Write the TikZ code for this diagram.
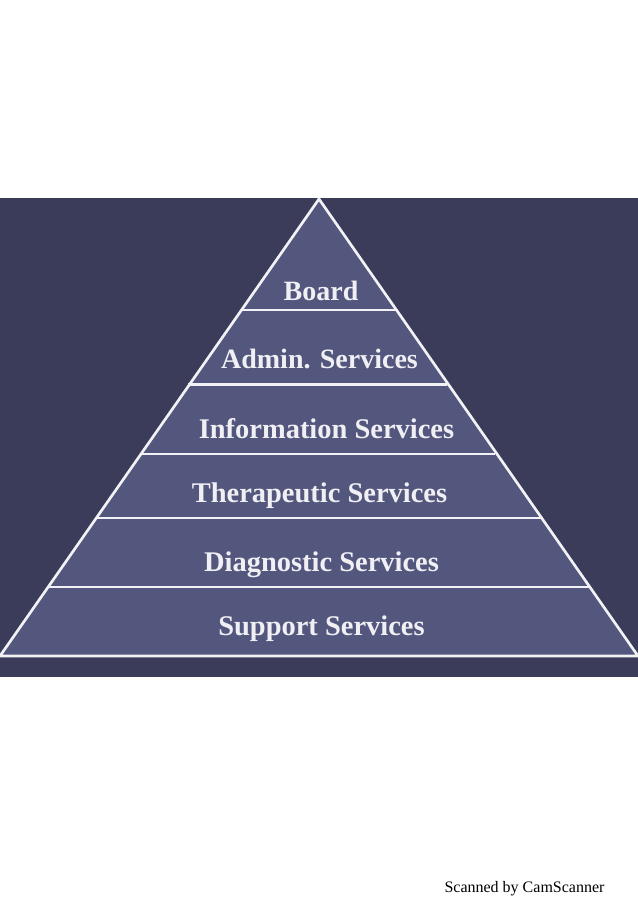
\documentclass[tikz,border=0pt]{standalone}
\usepackage{fontspec}
\setmainfont{Liberation Serif}
\definecolor{banddark}{HTML}{3A3C5A}
\definecolor{tierfill}{HTML}{53567D}
\definecolor{tierline}{HTML}{F2F2F6}
\definecolor{tiertext}{HTML}{EFEFF4}
\tikzset{
  x=0.75pt,y=-0.75pt,
  tierlabel/.style={text=tiertext,font=\fontsize{21.35}{24}\selectfont\bfseries,inner sep=0pt,anchor=base},
  tiersmall/.style={tierlabel,font=\fontsize{21}{24}\selectfont\bfseries},
  tierrule/.style={draw=tierline,line width=2pt,line join=miter},
  scanlabel/.style={text=black,font=\fontsize{12}{14}\selectfont,inner sep=0pt,anchor=base}
}
\begin{document}
\begin{tikzpicture}
\useasboundingbox (0,0) rectangle (638,903);
\fill[white] (0,0) rectangle (638,903);
\fill[banddark] (0,198) rectangle (638,677);
\fill[tierfill] (319,199) -- (638,656) -- (0,656) -- cycle;
\draw[tierrule] (0,656) -- (319,199) -- (638,656) -- cycle;
\draw[tierrule] (241,310) -- (397,310);
\draw[tierrule] (188,384.5) -- (447,384.5);
\draw[tierrule] (142,454) -- (495,454);
\draw[tierrule] (97,518) -- (541,518);
\draw[tierrule] (48,587) -- (589,587);
\node[tiersmall] (board) at (321,300) {Board};
\node[tiersmall] (admin) at (319.5,368.5) {Admin. Services};
\node[tierlabel] (info) at (326.5,438) {Information Services};
\node[tierlabel] (thera) at (319.5,502) {Therapeutic Services};
\node[tierlabel] (diag) at (321.5,571) {Diagnostic Services};
\node[tierlabel] (supp) at (321.5,635) {Support Services};
\node[scanlabel] (scan) at (524.5,892) {Scanned by CamScanner};
\end{tikzpicture}
\end{document}
